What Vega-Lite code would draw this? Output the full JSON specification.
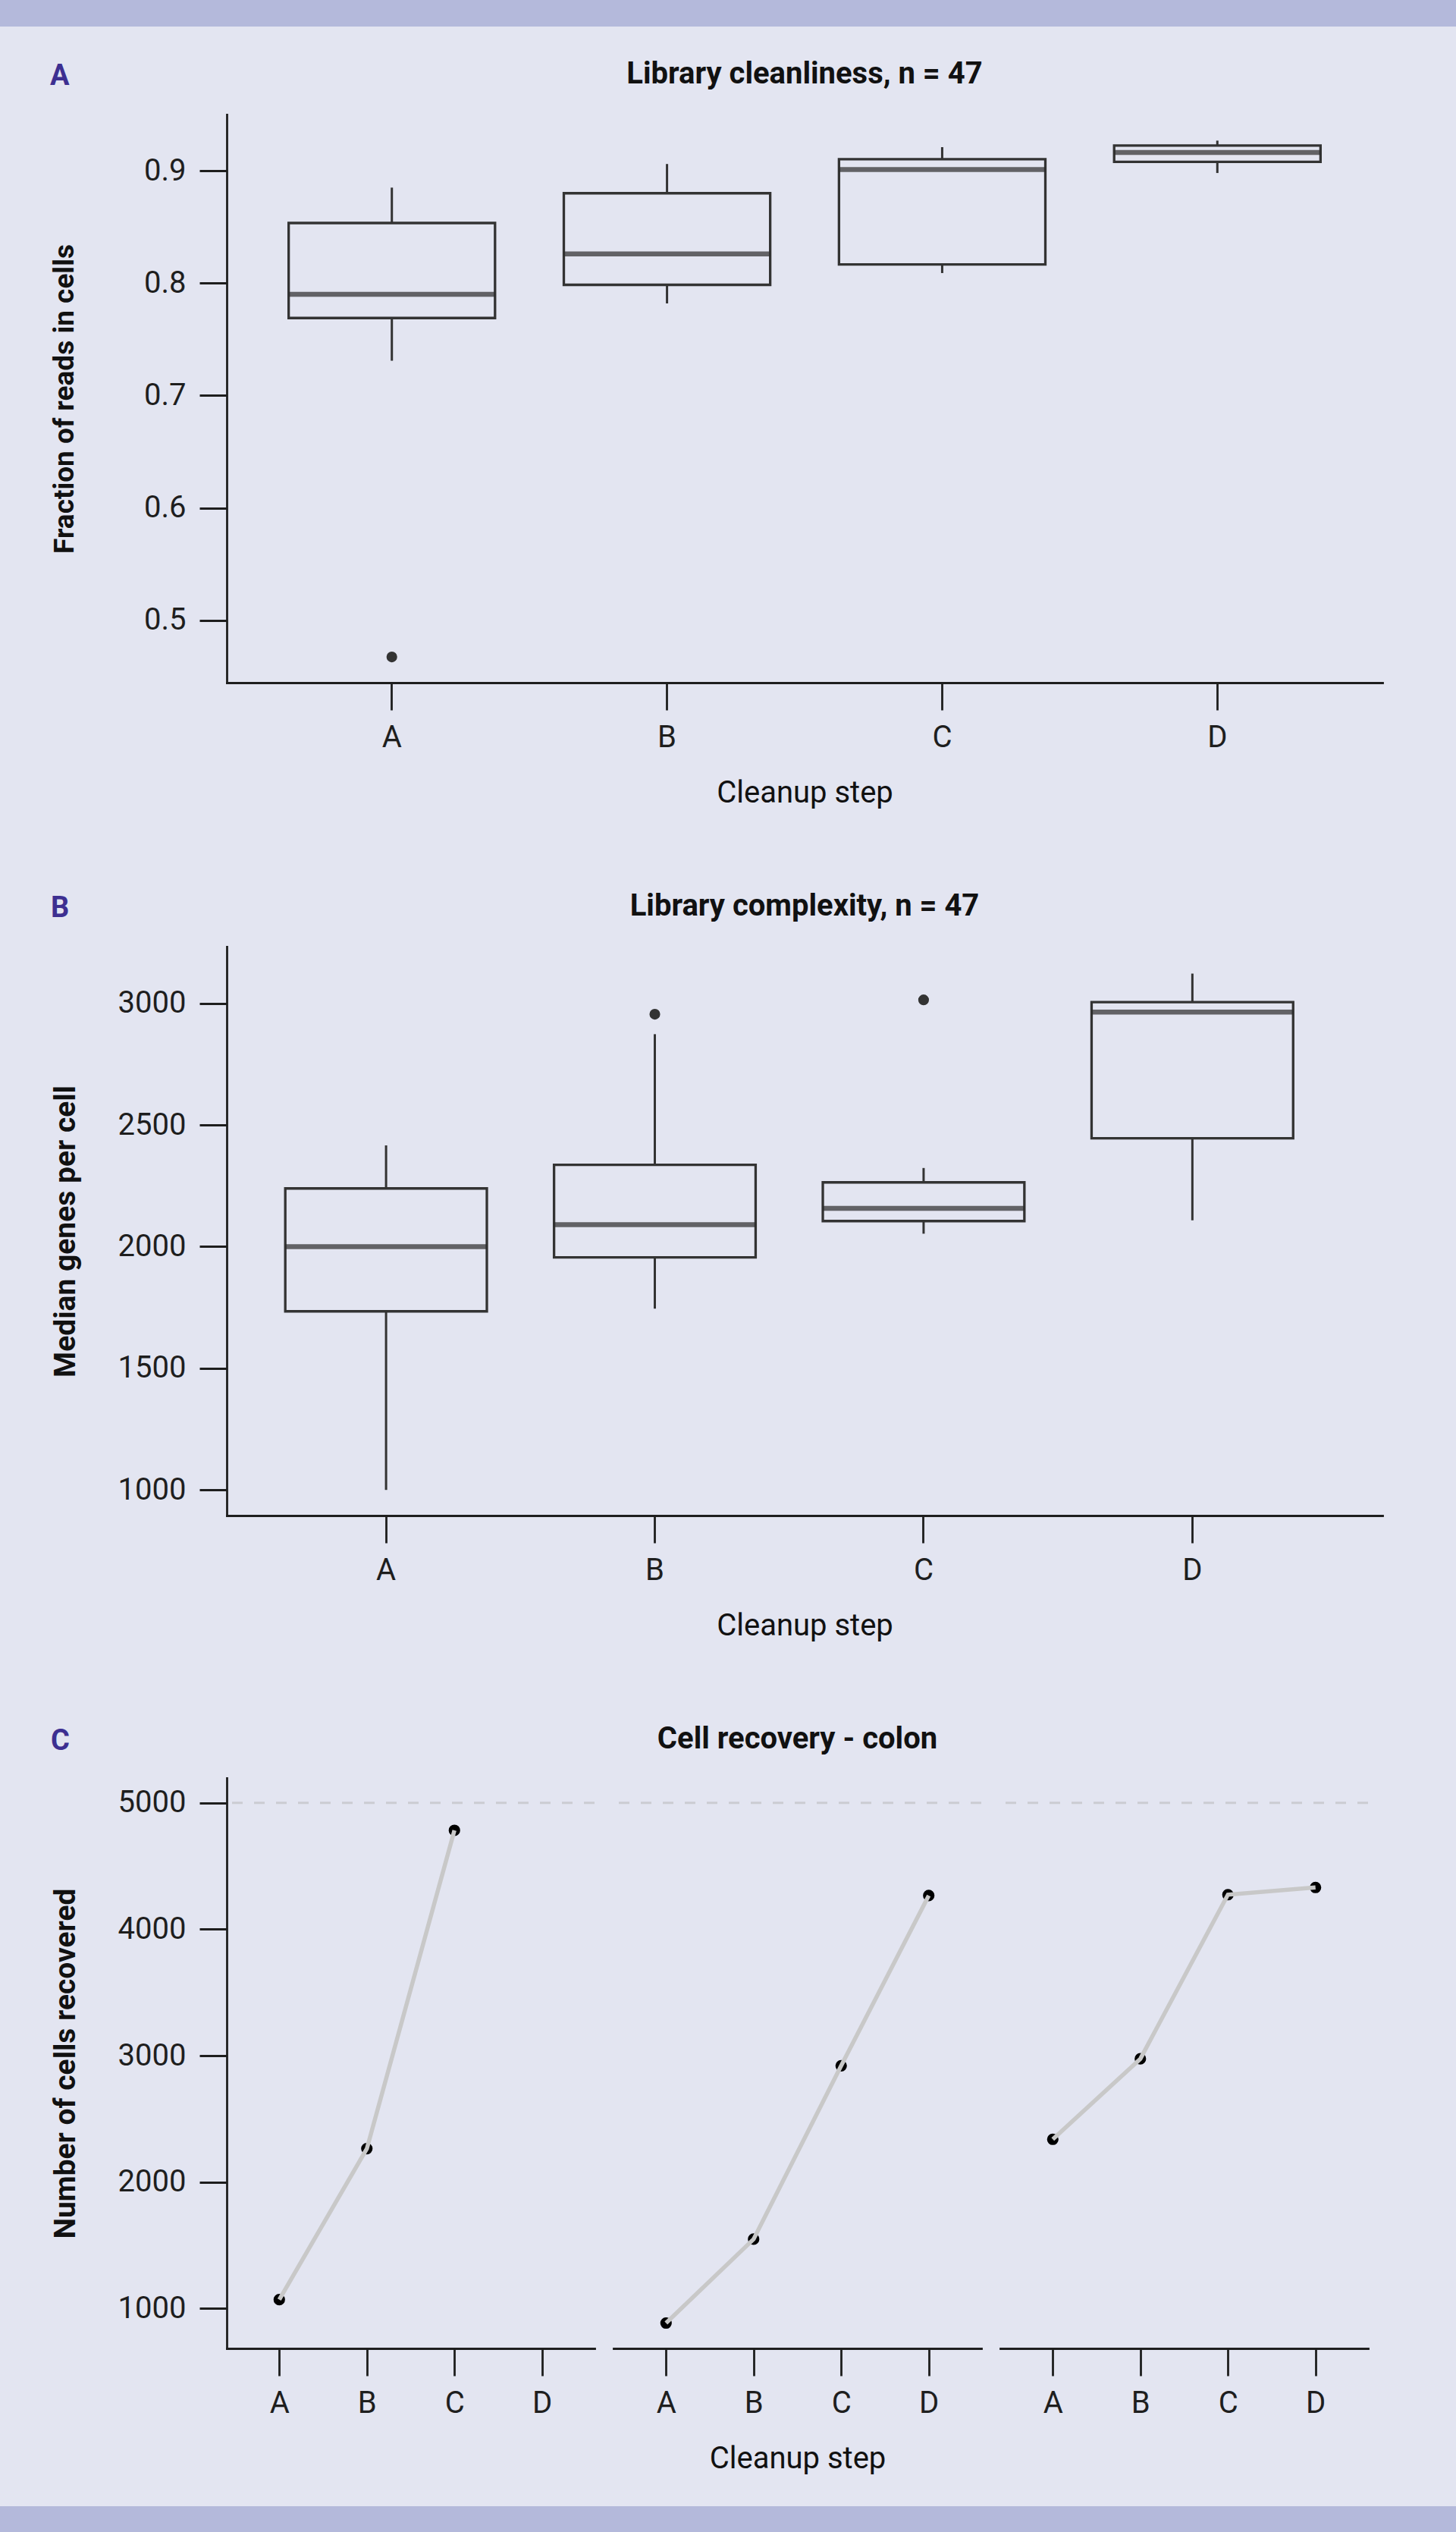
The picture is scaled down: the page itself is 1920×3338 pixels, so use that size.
{
  "$schema": "https://vega.github.io/schema/vega-lite/v6.json",
  "background": "#e3e5f1",
  "padding": 0,
  "spacing": 43,
  "datasets": {
    "bands": [{"band": "edge"}],
    "cleanliness": [
      {"step": "A", "lower": 0.731, "q1": 0.769, "median": 0.790, "q3": 0.8535, "upper": 0.885},
      {"step": "B", "lower": 0.782, "q1": 0.7985, "median": 0.826, "q3": 0.880, "upper": 0.906},
      {"step": "C", "lower": 0.809, "q1": 0.8167, "median": 0.901, "q3": 0.9103, "upper": 0.921},
      {"step": "D", "lower": 0.898, "q1": 0.9079, "median": 0.9162, "q3": 0.9224, "upper": 0.9268}
    ],
    "cleanOut": [{"step": "A", "value": 0.4675}],
    "complexity": [
      {"step": "A", "lower": 1000, "q1": 1734, "median": 2000, "q3": 2239, "upper": 2416},
      {"step": "B", "lower": 1745, "q1": 1956, "median": 2090, "q3": 2336, "upper": 2873},
      {"step": "C", "lower": 2053, "q1": 2105, "median": 2157, "q3": 2264, "upper": 2323},
      {"step": "D", "lower": 2108, "q1": 2445, "median": 2964, "q3": 3005, "upper": 3122}
    ],
    "complexOut": [{"step": "B", "value": 2955}, {"step": "C", "value": 3014}],
    "recovery": [
      {"sample": "1", "step": "A", "cells": 1069},
      {"sample": "1", "step": "B", "cells": 2264},
      {"sample": "1", "step": "C", "cells": 4783},
      {"sample": "2", "step": "A", "cells": 884},
      {"sample": "2", "step": "B", "cells": 1548},
      {"sample": "2", "step": "C", "cells": 2920},
      {"sample": "2", "step": "D", "cells": 4267},
      {"sample": "3", "step": "A", "cells": 2338},
      {"sample": "3", "step": "B", "cells": 2975},
      {"sample": "3", "step": "C", "cells": 4274},
      {"sample": "3", "step": "D", "cells": 4331}
    ],
    "target": [{"target": 5000}]
  },
  "vconcat": [
    {
      "width": 1920, "height": 35,
      "view": {"fill": "#b4b9db", "stroke": null},
      "data": {"name": "bands"},
      "mark": {"type": "rect", "color": "#b4b9db"},
      "encoding": {}
    },
    {
      "spacing": 0,
      "hconcat": [
        {"width": 66, "height": 10, "data": {"values": []}, "mark": "rect", "encoding": {}},
        {
          "spacing": 110,
          "vconcat": [
            {
              "title": {"text": "A", "anchor": "start", "frame": "bounds", "color": "#3d2f91", "fontSize": 38, "fontWeight": "bold", "offset": -42},
              "vconcat": [
                {
                  "width": 1524, "height": 749,
                  "title": {"text": "Library cleanliness, n = 47", "offset": 33},
                  "data": {"name": "cleanliness"},
                  "encoding": {
                    "x": {"field": "step", "type": "nominal", "title": "Cleanup step",
                      "scale": {"type": "band", "domain": ["A", "B", "C", "D"], "paddingInner": 0.25, "paddingOuter": 0.225},
                      "axis": {"titleX": 762, "titleY": 157}}
                  },
                  "layer": [
                    {"mark": {"type": "rule", "color": "#333333", "strokeWidth": 3},
                     "encoding": {
                       "y": {"field": "lower", "type": "quantitative", "title": "Fraction of reads in cells",
                         "scale": {"domain": [0.4446, 0.95], "nice": false, "zero": false},
                         "axis": {"values": [0.5, 0.6, 0.7, 0.8, 0.9], "format": ".1f", "titleX": -203, "titleY": 374.5, "titleFontSize": 37}},
                       "y2": {"field": "q1"}}},
                    {"mark": {"type": "rule", "color": "#333333", "strokeWidth": 3},
                     "encoding": {
                       "y": {"field": "q3", "type": "quantitative", "title": "Fraction of reads in cells",
                         "scale": {"domain": [0.4446, 0.95], "nice": false, "zero": false}},
                       "y2": {"field": "upper"}}},
                    {"mark": {"type": "bar", "filled": false, "color": "#333333", "strokeWidth": 3.3},
                     "encoding": {
                       "y": {"field": "q1", "type": "quantitative", "title": "Fraction of reads in cells",
                         "scale": {"domain": [0.4446, 0.95], "nice": false, "zero": false}},
                       "y2": {"field": "q3"}}},
                    {"mark": {"type": "tick", "orient": "horizontal", "color": "#2b2b2b", "thickness": 6.5, "size": 272},
                     "encoding": {
                       "y": {"field": "median", "type": "quantitative", "title": "Fraction of reads in cells",
                         "scale": {"domain": [0.4446, 0.95], "nice": false, "zero": false}}}},
                    {"data": {"name": "cleanOut"},
                     "mark": {"type": "point", "filled": true, "color": "#333333", "size": 200, "opacity": 1},
                     "encoding": {
                       "y": {"field": "value", "type": "quantitative", "title": "Fraction of reads in cells",
                         "scale": {"domain": [0.4446, 0.95], "nice": false, "zero": false}}}}
                  ]
                }
              ]
            },
            {
              "title": {"text": "B", "anchor": "start", "frame": "bounds", "color": "#3d2f91", "fontSize": 38, "fontWeight": "bold", "offset": -42},
              "vconcat": [
                {
                  "width": 1524, "height": 750,
                  "title": {"text": "Library complexity, n = 47", "offset": 33},
                  "data": {"name": "complexity"},
                  "encoding": {
                    "x": {"field": "step", "type": "nominal", "title": "Cleanup step",
                      "scale": {"type": "band", "domain": ["A", "B", "C", "D"], "paddingInner": 0.25, "paddingOuter": 0.275, "align": 0.396},
                      "axis": {"titleX": 762, "titleY": 157}}
                  },
                  "layer": [
                    {"mark": {"type": "rule", "color": "#333333", "strokeWidth": 3},
                     "encoding": {
                       "y": {"field": "lower", "type": "quantitative", "title": "Median genes per cell",
                         "scale": {"domain": [894.6, 3232.7], "nice": false, "zero": false},
                         "axis": {"values": [1000, 1500, 2000, 2500, 3000], "format": "d", "titleX": -201, "titleY": 375}},
                       "y2": {"field": "q1"}}},
                    {"mark": {"type": "rule", "color": "#333333", "strokeWidth": 3},
                     "encoding": {
                       "y": {"field": "q3", "type": "quantitative", "title": "Median genes per cell",
                         "scale": {"domain": [894.6, 3232.7], "nice": false, "zero": false}},
                       "y2": {"field": "upper"}}},
                    {"mark": {"type": "bar", "filled": false, "color": "#333333", "strokeWidth": 3.3},
                     "encoding": {
                       "y": {"field": "q1", "type": "quantitative", "title": "Median genes per cell",
                         "scale": {"domain": [894.6, 3232.7], "nice": false, "zero": false}},
                       "y2": {"field": "q3"}}},
                    {"mark": {"type": "tick", "orient": "horizontal", "color": "#2b2b2b", "thickness": 6.5, "size": 266},
                     "encoding": {
                       "y": {"field": "median", "type": "quantitative", "title": "Median genes per cell",
                         "scale": {"domain": [894.6, 3232.7], "nice": false, "zero": false}}}},
                    {"data": {"name": "complexOut"},
                     "mark": {"type": "point", "filled": true, "color": "#333333", "size": 200, "opacity": 1},
                     "encoding": {
                       "y": {"field": "value", "type": "quantitative", "title": "Median genes per cell",
                         "scale": {"domain": [894.6, 3232.7], "nice": false, "zero": false}}}}
                  ]
                }
              ]
            },
            {
              "title": {"text": "C", "anchor": "start", "frame": "bounds", "color": "#3d2f91", "fontSize": 38, "fontWeight": "bold", "offset": -42},
              "spacing": 25,
              "bounds": "flush",
              "hconcat": [
                {
                  "width": 485, "height": 752,
                  "layer": [
                    {"data": {"name": "target"},
                     "mark": {"type": "rule", "color": "#cbccd2", "strokeWidth": 3, "strokeDash": [14, 15]},
                     "encoding": {
                       "y": {"field": "target", "type": "quantitative", "title": "Number of cells recovered",
                         "scale": {"domain": [683, 5197], "nice": false, "zero": false},
                         "axis": {"values": [1000, 2000, 3000, 4000, 5000], "format": "d", "titleX": -201, "titleY": 376}}}},
                    {"data": {"name": "recovery"},
                     "transform": [{"filter": "datum.sample == '1'"}],
                     "mark": {"type": "point", "filled": true, "color": "#000000", "size": 230, "opacity": 1},
                     "encoding": {
                       "x": {"field": "step", "type": "ordinal", "title": null, "scale": {"type": "point", "domain": ["A", "B", "C", "D"], "padding": 0.6}},
                       "y": {"field": "cells", "type": "quantitative", "title": "Number of cells recovered",
                         "scale": {"domain": [683, 5197], "nice": false, "zero": false}}}},
                    {"data": {"name": "recovery"},
                     "transform": [{"filter": "datum.sample == '1'"}],
                     "mark": {"type": "line", "color": "#c8c8c8", "strokeWidth": 5.5},
                     "encoding": {
                       "x": {"field": "step", "type": "ordinal", "title": null, "scale": {"type": "point", "domain": ["A", "B", "C", "D"], "padding": 0.6}},
                       "y": {"field": "cells", "type": "quantitative", "title": "Number of cells recovered",
                         "scale": {"domain": [683, 5197], "nice": false, "zero": false}}}}
                  ]
                },
                {
                  "width": 485, "height": 752,
                  "title": {"text": "Cell recovery - colon", "offset": 31},
                  "layer": [
                    {"data": {"name": "target"},
                     "mark": {"type": "rule", "color": "#cbccd2", "strokeWidth": 3, "strokeDash": [14, 15]},
                     "encoding": {
                       "y": {"field": "target", "type": "quantitative", "axis": null,
                         "scale": {"domain": [683, 5197], "nice": false, "zero": false}}}},
                    {"data": {"name": "recovery"},
                     "transform": [{"filter": "datum.sample == '2'"}],
                     "mark": {"type": "point", "filled": true, "color": "#000000", "size": 230, "opacity": 1},
                     "encoding": {
                       "x": {"field": "step", "type": "ordinal", "title": "Cleanup step", "scale": {"type": "point", "domain": ["A", "B", "C", "D"], "padding": 0.6},
                         "axis": {"titleX": 242.5, "titleY": 157}},
                       "y": {"field": "cells", "type": "quantitative", "axis": null,
                         "scale": {"domain": [683, 5197], "nice": false, "zero": false}}}},
                    {"data": {"name": "recovery"},
                     "transform": [{"filter": "datum.sample == '2'"}],
                     "mark": {"type": "line", "color": "#c8c8c8", "strokeWidth": 5.5},
                     "encoding": {
                       "x": {"field": "step", "type": "ordinal", "title": "Cleanup step", "scale": {"type": "point", "domain": ["A", "B", "C", "D"], "padding": 0.6}},
                       "y": {"field": "cells", "type": "quantitative", "axis": null,
                         "scale": {"domain": [683, 5197], "nice": false, "zero": false}}}}
                  ]
                },
                {
                  "width": 485, "height": 752,
                  "layer": [
                    {"data": {"name": "target"},
                     "mark": {"type": "rule", "color": "#cbccd2", "strokeWidth": 3, "strokeDash": [14, 15]},
                     "encoding": {
                       "y": {"field": "target", "type": "quantitative", "axis": null,
                         "scale": {"domain": [683, 5197], "nice": false, "zero": false}}}},
                    {"data": {"name": "recovery"},
                     "transform": [{"filter": "datum.sample == '3'"}],
                     "mark": {"type": "point", "filled": true, "color": "#000000", "size": 230, "opacity": 1},
                     "encoding": {
                       "x": {"field": "step", "type": "ordinal", "title": null, "scale": {"type": "point", "domain": ["A", "B", "C", "D"], "padding": 0.6}},
                       "y": {"field": "cells", "type": "quantitative", "axis": null,
                         "scale": {"domain": [683, 5197], "nice": false, "zero": false}}}},
                    {"data": {"name": "recovery"},
                     "transform": [{"filter": "datum.sample == '3'"}],
                     "mark": {"type": "line", "color": "#c8c8c8", "strokeWidth": 5.5},
                     "encoding": {
                       "x": {"field": "step", "type": "ordinal", "title": null, "scale": {"type": "point", "domain": ["A", "B", "C", "D"], "padding": 0.6}},
                       "y": {"field": "cells", "type": "quantitative", "axis": null,
                         "scale": {"domain": [683, 5197], "nice": false, "zero": false}}}}
                  ]
                }
              ]
            }
          ]
        }
      ]
    },
    {
      "width": 1920, "height": 36,
      "view": {"fill": "#b4b9db", "stroke": null},
      "data": {"name": "bands"},
      "mark": {"type": "rect", "color": "#b4b9db"},
      "encoding": {}
    }
  ],
  "config": {
    "view": {"stroke": null},
    "font": "Roboto",
    "title": {"font": "Roboto", "fontSize": 40, "fontWeight": "bold", "color": "#111111", "anchor": "middle", "frame": "group"},
    "axis": {
      "grid": false,
      "domainColor": "#1e1e1e", "domainWidth": 2.8, "domainCap": "square",
      "tickColor": "#1e1e1e", "tickWidth": 2.8, "tickSize": 36,
      "labelFont": "Roboto", "labelFontSize": 40, "labelColor": "#1e1e1e",
      "titleFont": "Roboto", "titleColor": "#111111", "titleFontSize": 40, "titleFontWeight": "normal",
      "titleBaseline": "alphabetic"
    },
    "axisX": {"labelAngle": 0, "labelPadding": 16},
    "axisY": {"labelPadding": 18, "titleFontWeight": "bold", "titleFontSize": 39, "titleAngle": 270}
  }
}
